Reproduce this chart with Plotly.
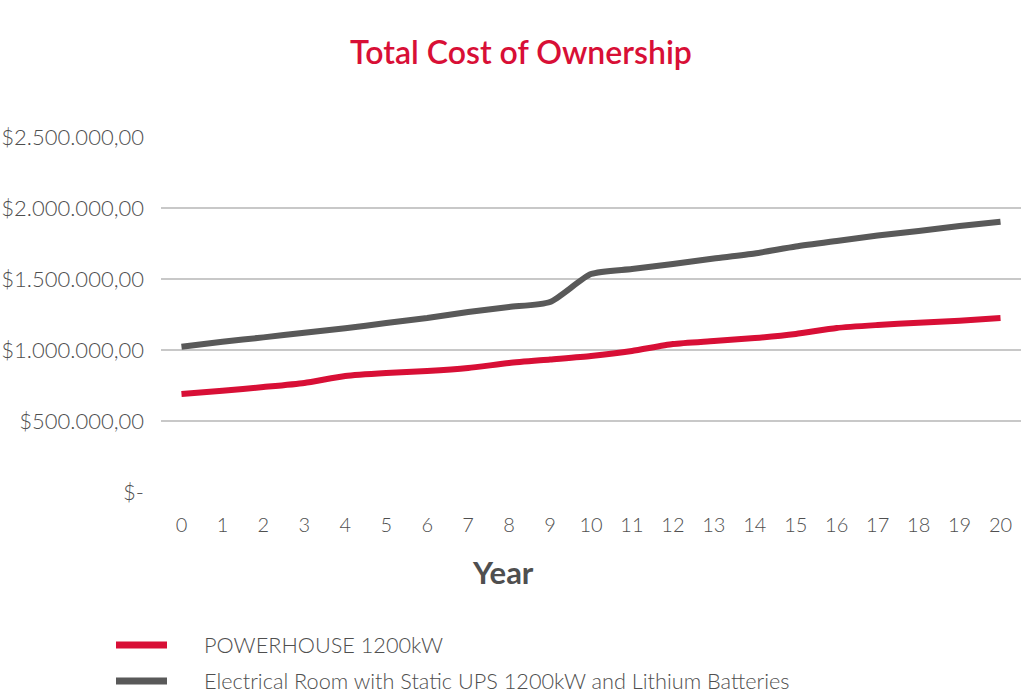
import plotly.graph_objects as go

years = list(range(0, 21))
powerhouse = [690000, 713000, 739000, 768000, 817000, 838000, 852000, 873000, 908000, 933000,
              958000, 993000, 1042000, 1063000, 1084000, 1113000, 1155000, 1176000, 1192000, 1206000, 1225000]
electrical_room = [1023000, 1058000, 1089000, 1122000, 1153000, 1190000, 1225000, 1268000, 1303000, 1338000,
                   1535000, 1570000, 1606000, 1644000, 1680000, 1729000, 1768000, 1806000, 1838000, 1873000, 1903000]
series_names = ["POWERHOUSE 1200kW", "Electrical Room with Static UPS 1200kW and Lithium Batteries"]
y_tickvals = [0, 500000, 1000000, 1500000, 2000000, 2500000]
y_ticktext = ["$-", "$500.000,00", "$1.000.000,00", "$1.500.000,00", "$2.000.000,00", "$2.500.000,00"]

RED = "#D80F36"
GRAY = "#595959"
TXT = "#4F4F4F"
FONT = "Lato"

fig = go.Figure()
fig.add_trace(go.Scatter(x=years, y=powerhouse, mode="lines", name=series_names[0],
                         line=dict(color=RED, width=6, shape="spline", smoothing=0.6)))
fig.add_trace(go.Scatter(x=years, y=electrical_room, mode="lines", name=series_names[1],
                         line=dict(color=GRAY, width=6, shape="spline", smoothing=0.6)))

fig.update_layout(
    width=1024, height=696,
    margin=dict(l=161, r=3, t=137, b=204),
    paper_bgcolor="white", plot_bgcolor="white",
    showlegend=False,
    font=dict(family=FONT, color=TXT),
    title=dict(text="Total Cost of Ownership", x=521 / 1024, xanchor="center", y=1 - 53 / 696, yanchor="middle",
               font=dict(family=FONT, size=32, color=RED, weight=600)),
)
fig.update_xaxes(range=[-0.5, 20.5], tickvals=years, ticktext=[str(y) for y in years],
                 showgrid=False, zeroline=False, showline=False, ticks="", automargin=False,
                 tickfont=dict(size=20, color=TXT, family=FONT, weight=300), ticklabelstandoff=19)
fig.update_yaxes(range=[0, 2500000], tickvals=y_tickvals, ticktext=y_ticktext,
                 showgrid=True, gridcolor="#C8C8C8", gridwidth=1.5, zeroline=False, showline=False,
                 ticks="", automargin=False,
                 tickfont=dict(size=22, color=TXT, family=FONT, weight=300), ticklabelstandoff=16)

# x-axis title
fig.add_annotation(text="<b>Year</b>", x=(503 - 161) / 860, y=(492 - 572) / 355,
                   xref="paper", yref="paper", showarrow=False, xanchor="center", yanchor="middle",
                   font=dict(size=31, color=TXT, family=FONT))

# manual legend
legend_rows = [(645, RED, series_names[0]), (681, GRAY, series_names[1])]
for ypix, col, name in legend_rows:
    yp = (492 - ypix) / 355
    fig.add_shape(type="line", xref="paper", yref="paper",
                  x0=(116 - 161) / 860, x1=(167 - 161) / 860, y0=yp, y1=yp,
                  line=dict(color=col, width=7))
    fig.add_annotation(text=name, xref="paper", yref="paper", x=(202 - 161) / 860, y=yp,
                       xanchor="left", yanchor="middle", showarrow=False,
                       font=dict(size=21.7, color=TXT, family=FONT, weight=300))

fig.write_html("out.html")
